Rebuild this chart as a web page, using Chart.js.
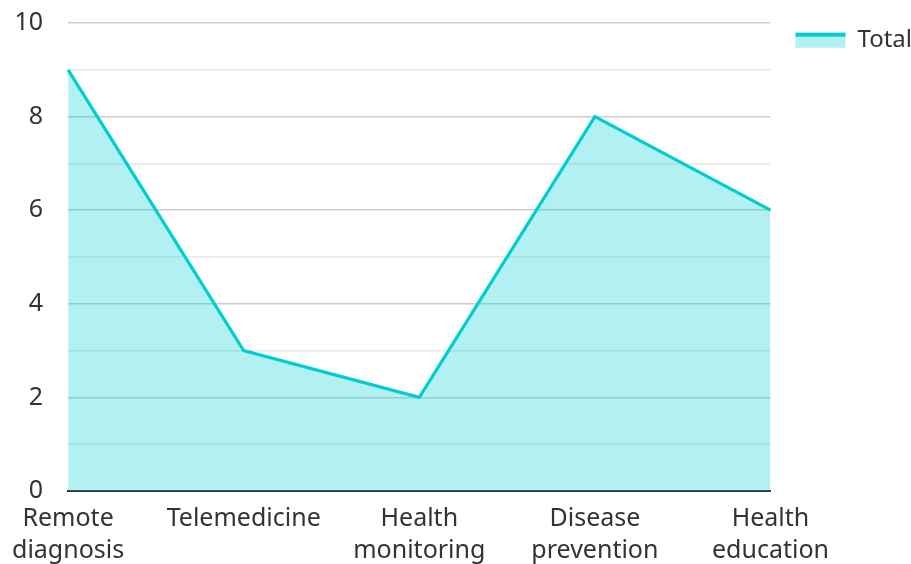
<!DOCTYPE html>
<html>
<head>
<meta charset="utf-8">
<script src="https://cdn.jsdelivr.net/npm/chart.js@4"></script>
<style>
  html, body { margin: 0; padding: 0; background: #fff; overflow: hidden; }
  #wrap { width: 911px; height: 564px; overflow: hidden; }
</style>
</head>
<body>
<div id="wrap"><canvas id="c" width="922" height="579"></canvas></div>
<script>
const categories = [["Remote", "diagnosis"], "Telemedicine", ["Health", "monitoring"], ["Disease", "prevention"], ["Health", "education"]];
const totals = [9, 3, 2, 8, 6];
const seriesName = "Total";

const LINE = "#00CED1";
const FILL = "rgba(0, 206, 209, 0.3)";
const TEXT = "#333333";
const FONT = "'Noto Sans', sans-serif";

// Draws the series colour as a thick strip along the top of the legend swatch
const legendStrip = {
  id: "legendStrip",
  afterDraw(chart) {
    const lg = chart.legend;
    if (!lg || !lg.legendHitBoxes) return;
    const ctx = chart.ctx;
    lg.legendHitBoxes.forEach(box => {
      const bw = lg.options.labels.boxWidth;
      const bh = lg.options.labels.boxHeight;
      const top = box.top + (box.height - bh) / 2;
      ctx.save();
      ctx.fillStyle = LINE;
      ctx.fillRect(box.left, top, bw, 4);
      ctx.restore();
    });
  }
};

new Chart(document.getElementById("c"), {
  type: "line",
  data: {
    labels: categories,
    datasets: [{
      label: seriesName,
      data: totals,
      borderColor: LINE,
      backgroundColor: FILL,
      borderWidth: 3.2,
      fill: "origin",
      pointRadius: 0,
      tension: 0
    }]
  },
  options: {
    responsive: false,
    animation: false,
    layout: { padding: { top: -8, left: -11, right: 0, bottom: 0 } },
    plugins: {
      tooltip: { enabled: false },
      legend: {
        position: "right",
        align: "start",
        title: { display: true, text: " ", font: { size: 1 }, padding: { top: 0, bottom: 10 } },
        labels: {
          color: TEXT,
          font: { family: FONT, size: 24 },
          boxWidth: 50,
          boxHeight: 15,
          padding: 25,
          generateLabels(chart) {
            const ds = chart.data.datasets[0];
            return [{
              text: ds.label,
              fillStyle: FILL,
              strokeStyle: FILL,
              lineWidth: 0,
              fontColor: TEXT,
              datasetIndex: 0
            }];
          }
        }
      }
    },
    scales: {
      x: {
        offset: false,
        grid: { display: false, drawTicks: false },
        border: { display: true, color: "#333333", width: 2 },
        ticks: {
          color: TEXT,
          font: { family: FONT, size: 25, lineHeight: 1.28 },
          padding: 12,
          maxRotation: 0,
          autoSkip: false
        }
      },
      y: {
        min: 0,
        max: 10,
        // keep only half the top label's height above the plot
        afterFit(scale) { scale.paddingTop = 23; },
        grid: {
          drawTicks: false,
          color: ctx => (ctx.tick && ctx.tick.value % 2 === 0) ? "#cccccc" : "#e8e8e8",
          lineWidth: 1.5
        },
        border: { display: false },
        ticks: {
          stepSize: 1,
          color: TEXT,
          padding: 25,
          font: { family: FONT, size: 25 },
          callback: v => (v % 2 === 0 ? v : "")
        }
      }
    }
  },
  plugins: [legendStrip]
});
</script>
</body>
</html>
